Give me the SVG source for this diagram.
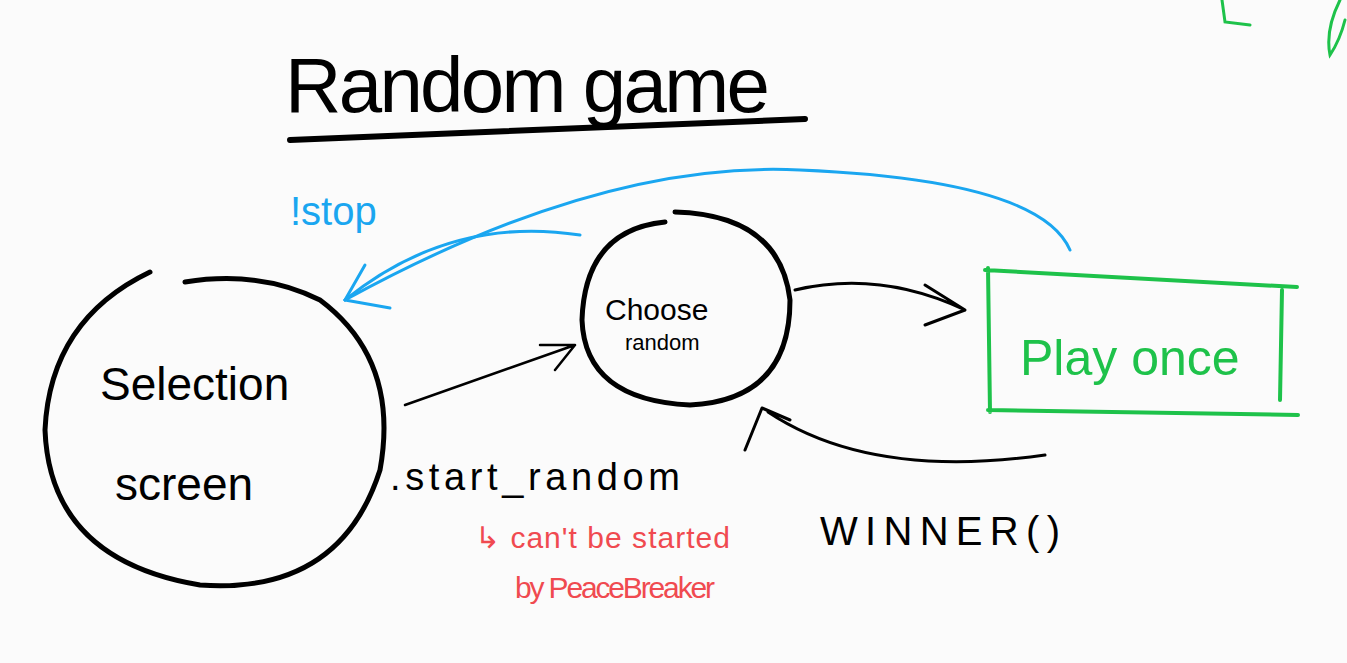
<svg xmlns="http://www.w3.org/2000/svg" width="1347" height="663" viewBox="0 0 1347 663">
<style>
.k{fill:none;stroke:#000;stroke-linecap:round;stroke-linejoin:round}
.b{fill:none;stroke:#1aa6f0;stroke-width:3;stroke-linecap:round}
.g{fill:none;stroke:#1ec24a;stroke-linecap:round}
text{font-family:"Liberation Sans",sans-serif}
</style>
<rect width="1347" height="663" fill="#fbfbfb"/>
<g id="title">
<text x="285" y="112" font-size="78" font-weight="300" fill="#000" textLength="485">Random game</text>
<path d="M290 140 L805 119" class="k" stroke-width="6"/>
</g>
<g id="corner"><path d="M1222 0 L1225 22 L1250 25 M1340 0 Q1325 30 1330 55 Q1340 40 1345 20" class="g" stroke-width="3"/></g>
<g id="selection">
<path d="M150 272 Q50 320 45 430 Q50 560 200 585 Q340 595 380 470 Q400 360 320 300 Q260 270 185 282" class="k" stroke-width="5"/>
<text x="100" y="400" font-size="46" font-weight="300">Selection</text>
<text x="115" y="500" font-size="46" font-weight="300">screen</text>
</g>
<g id="choose">
<path d="M675 212 Q780 215 790 300 Q790 400 690 405 Q585 400 582 320 Q585 230 665 222" class="k" stroke-width="5"/>
<text x="605" y="320" font-size="30" font-weight="300">Choose</text>
<text x="625" y="350" font-size="22" font-weight="300">random</text>
</g>
<g id="play">
<path d="M985 270 L1297 287 M988 268 L990 412 M988 410 L1298 415 M1282 290 L1280 400" class="g" stroke-width="4"/>
<text x="1020" y="375" font-size="50" font-weight="300" fill="#1ec24a">Play once</text>
</g>
<g id="connectors">
<path d="M1070 250 Q1040 180 800 170 Q600 160 345 300" class="b"/>
<path d="M580 235 Q450 215 345 300" class="b"/>
<path d="M345 300 L365 265 M345 300 L390 308" class="b"/>
<path d="M405 405 L575 345 M540 345 L575 345 L555 370" class="k" stroke-width="2.5"/>
<path d="M795 290 Q880 270 965 310 M925 285 L965 310 L925 325" class="k" stroke-width="3"/>
<path d="M1045 455 Q870 480 768 412 M745 450 L762 408 L790 420" class="k" stroke-width="3"/>
</g>
<g id="labels">
<text x="290" y="225" font-size="40" font-weight="300" fill="#1aa6f0">!stop</text>
<text x="390" y="490" font-size="38" font-weight="300" textLength="290">.start_random</text>
<text x="475" y="548" font-size="30" font-weight="300" fill="#f04a50" textLength="255">↳ can't be started</text>
<text x="515" y="598" font-size="30" font-weight="300" fill="#f04a50" textLength="200">by PeaceBreaker</text>
<text x="820" y="545" font-size="40" font-weight="300" textLength="240">WINNER()</text>
</g>
</svg>
